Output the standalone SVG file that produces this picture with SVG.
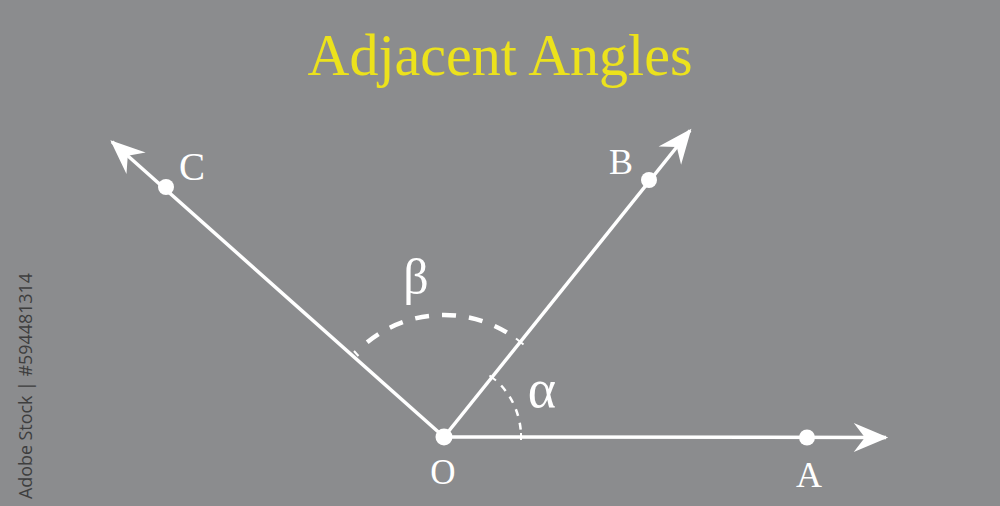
<svg xmlns="http://www.w3.org/2000/svg" width="1000" height="506" viewBox="0 0 1000 506">
  <defs>
    <style>
      .ray { stroke: #ffffff; stroke-width: 3.5; fill: none; }
      .lbl { font-family: "Liberation Serif", "DejaVu Serif", serif; fill: #ffffff; text-anchor: middle; }
      .dot { fill: #ffffff; }
      .tick { stroke: #ffffff; stroke-width: 2; }
    </style>
    <marker id="arrow" markerUnits="userSpaceOnUse" markerWidth="40" markerHeight="40" viewBox="-32 -16 36 32" refX="0" refY="0" orient="auto" overflow="visible">
      <path d="M2,0 L-29,-13 L-19,0 L-29,13 Z" fill="#ffffff"/>
    </marker>
  </defs>
  <rect x="0" y="0" width="1000" height="506" fill="#8b8c8e"/>

  <text x="500" y="75" font-family="'Liberation Serif', 'DejaVu Serif', serif" font-size="60" fill="#ece21c" text-anchor="middle" textLength="385" lengthAdjust="spacingAndGlyphs">Adjacent Angles</text>

  <text transform="translate(32,273) rotate(-90)" font-family="'Open Sans', 'Liberation Sans', sans-serif" font-size="19" fill="#3e3e3e" text-anchor="end" textLength="226" lengthAdjust="spacingAndGlyphs">Adobe Stock | #594481314</text>

  <g id="connectors">
    <line id="ray-OA" class="ray" x1="444" y1="437" x2="886" y2="437.5" marker-end="url(#arrow)"/>
    <line id="ray-OB" class="ray" x1="444" y1="437" x2="690" y2="130.5" marker-end="url(#arrow)"/>
    <line id="ray-OC" class="ray" x1="444" y1="437" x2="112" y2="141.8" marker-end="url(#arrow)"/>
    <path id="arc-beta" d="M367.2,342.2 A122,122 0 0 1 506.8,332.4" fill="none" stroke="#ffffff" stroke-width="4.5" stroke-dasharray="14 13"/>
    <path id="arc-alpha" d="M501.2,385.5 A77,77 0 0 1 521,434.3" fill="none" stroke="#ffffff" stroke-width="2.5" stroke-dasharray="7 7"/>
    <line class="tick" x1="516" y1="338.5" x2="523.5" y2="344.5"/>
    <line class="tick" x1="354" y1="351" x2="358.5" y2="356"/>
    <line class="tick" x1="489.5" y1="375.5" x2="496" y2="380.5"/>
    <line class="tick" x1="521" y1="433" x2="521" y2="440"/>
  </g>

  <g id="node-O">
    <circle class="dot" cx="444" cy="437" r="8.5"/>
    <text class="lbl" x="443" y="484" font-size="35">O</text>
  </g>
  <g id="node-A">
    <circle class="dot" cx="807" cy="437.5" r="8"/>
    <text class="lbl" x="809" y="487" font-size="36">A</text>
  </g>
  <g id="node-B">
    <circle class="dot" cx="649" cy="180" r="8"/>
    <text class="lbl" x="621" y="174" font-size="36">B</text>
  </g>
  <g id="node-C">
    <circle class="dot" cx="166" cy="187" r="8"/>
    <text class="lbl" x="192" y="180" font-size="39">C</text>
  </g>
  <g id="label-beta">
    <text class="lbl" x="416" y="294" font-size="50">β</text>
  </g>
  <g id="label-alpha">
    <text class="lbl" x="542" y="407" font-size="54">α</text>
  </g>
</svg>
